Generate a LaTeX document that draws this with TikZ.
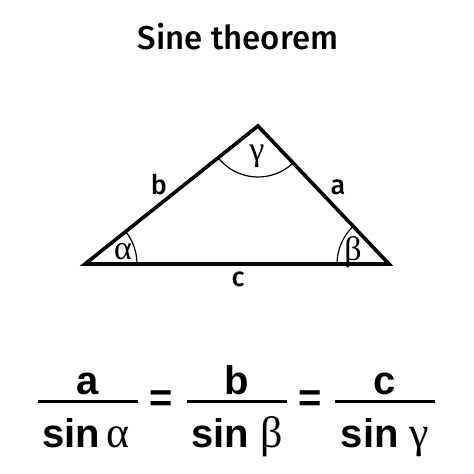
\documentclass[tikz,border=0pt]{standalone}
\usepackage{fontspec}
\setmainfont{Fira Sans Medium}
\newfontfamily\formfont{Liberation Sans}[BoldFont={Liberation Sans Bold}]
\newfontfamily\greekfont{Liberation Serif}
\begin{document}
\begin{tikzpicture}[x=1pt,y=1pt,
  side/.style={line width=3.6pt, line join=miter},
  anglearc/.style={line width=1.2pt},
  sidelabel/.style={font=\fontsize{27}{27}\selectfont, anchor=base, inner sep=0pt},
  anglelabel/.style={font=\greekfont\fontsize{34}{34}\selectfont, inner sep=0pt},
  num/.style={font=\formfont\bfseries\fontsize{40}{40}\selectfont, anchor=base, inner sep=0pt},
  fracbar/.style={line width=3.6pt}]
\useasboundingbox[fill=white] (0,0) rectangle (474,474);
% title
\node[font=\fontsize{33}{33}\selectfont, anchor=base, inner sep=0pt] (title) at (238,424) {Sine theorem};
% triangle
\coordinate (A) at (85,210);
\coordinate (B) at (389,210);
\coordinate (C) at (258,348);
\draw[side] (A) -- (B) -- (C) -- cycle;
% angle arcs
\draw[anglearc] ([shift={(52,0)}]A) arc[start angle=0, end angle=38.6, radius=52];
\draw[anglearc] ([shift={(-52,0)}]B) arc[start angle=180, end angle=133.5, radius=52];
\draw[anglearc] ([shift={(218.6:51)}]C) arc[start angle=218.6, end angle=313.5, radius=51];
% angle labels
\node[anglelabel] (alpha) at (123,222) {α};
\node[anglelabel] (beta) at (353,222) {β};
\node[anglelabel] (gamma) at (257,318) {γ};
% side labels
\node[sidelabel] (lb) at (159,279) {b};
\node[sidelabel] (la) at (338,279) {a};
\node[sidelabel] (lc) at (238,187) {c};
% formula
\coordinate (b1l) at (38,72.5); \coordinate (b1r) at (138,72.5);
\coordinate (b2l) at (187,72.5); \coordinate (b2r) at (287,72.5);
\coordinate (b3l) at (335,72.5); \coordinate (b3r) at (435,72.5);
\draw[fracbar] (b1l) -- (b1r);
\draw[fracbar] (b2l) -- (b2r);
\draw[fracbar] (b3l) -- (b3r);
\node[num] (na) at (88,79) {a};
\node[num] (nb) at (237,79) {b};
\node[num] (nc) at (385,79) {c};
\node[num] (da) at (86,26) {sin\,{\greekfont\mdseries\fontsize{44}{44}\selectfont α}};
\node[num] (db) at (237,26) {sin {\greekfont\mdseries\fontsize{44}{44}\selectfont β}};
\node[num] (dc) at (385,26) {sin {\greekfont\mdseries\fontsize{44}{44}\selectfont γ}};
\node[num, anchor=center] (eq1) at (161,73) {=};
\node[num, anchor=center] (eq2) at (310,73) {=};
\end{tikzpicture}
\end{document}
